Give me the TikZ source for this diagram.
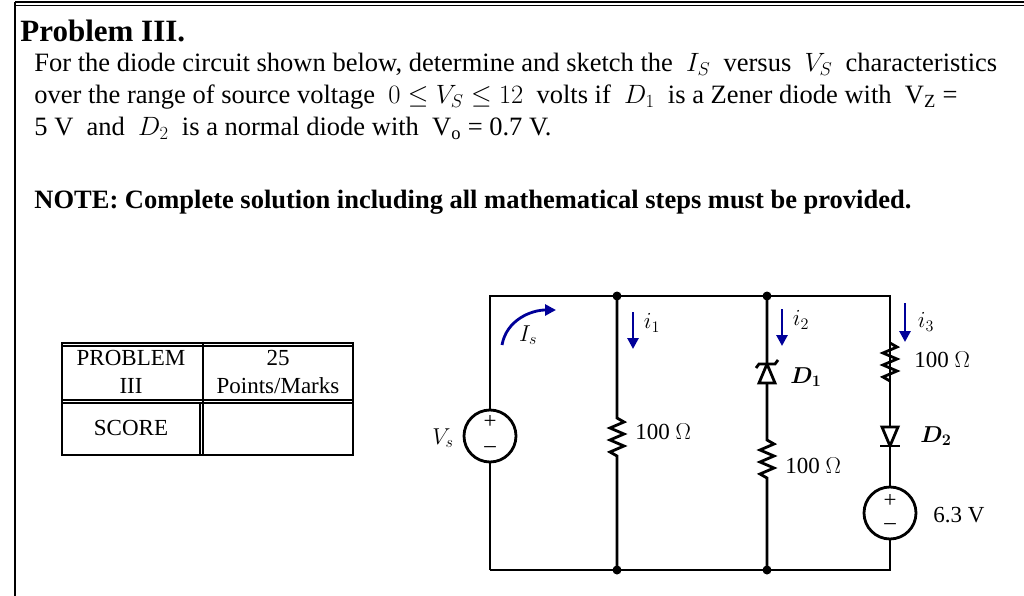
\documentclass[tikz,border=0pt]{standalone}
\usepackage{fix-cm}
\usepackage{amsmath,bm}
\usepackage{fontspec}
\setmainfont{Liberation Serif}
\usetikzlibrary{arrows.meta}
\begin{document}
\begin{tikzpicture}[x=1pt,y=-1pt,line width=2.8pt,
  txt/.style={anchor=west,inner sep=0pt,font=\fontsize{26.5}{30}\selectfont},
  lab/.style={inner sep=0pt,font=\fontsize{23}{26}\selectfont},
  cur/.style={draw=blue!60!black,line width=2.8pt,-{Triangle[length=11pt,width=11pt]}},
  dot/.style={circle,fill,inner sep=0pt,minimum size=9pt}]
\useasboundingbox (0,0) rectangle (1024,596);
% frame
\draw[line width=1.4pt] (15,2) -- (1024,2);
\draw[line width=1.4pt] (15,5.5) -- (1024,5.5);
\draw[line width=1.4pt] (15,2) -- (15,596);
\node[txt,font=\bfseries\fontsize{31}{34}\selectfont] (title) at (19,31) {Problem III.};
\node[txt] (l1) at (33,64) {For the diode circuit shown below, determine and sketch the \ $I_S$ \ versus \ $V_S$ \ characteristics};
\node[txt] (l2) at (33,97) {over the range of source voltage \ $0 \le V_S \le 12$ \ volts if \ $D_1$ \ is a Zener diode with \ V$_\mathrm{Z}$ =};
\node[txt] (l3) at (33,128) {5 V \ and \ $D_2$ \ is a normal diode with \ V$_\mathrm{o}$ = 0.7 V.};
\node[txt,font=\bfseries\fontsize{26.5}{30}\selectfont] (note) at (33,202) {NOTE: Complete solution including all mathematical steps must be provided.};
% table
\draw[line width=1.4pt] (62,343) rectangle (353,455);
\draw[line width=1.4pt] (62,346) -- (353,346);
\draw[line width=1.4pt] (62,400) -- (353,400) (62,403) -- (353,403);
\draw[line width=1.4pt] (203,343) -- (203,455) (200,403)--(200,455);
\node[lab] (p1) at (131,358) {PROBLEM};
\node[lab] (p2) at (131,386) {III};
\node[lab] (p3) at (278,358) {25};
\node[lab] (p4) at (278,386) {Points/Marks};
\node[lab] (p5) at (131,428) {SCORE};
% circuit wires
\coordinate (tl) at (490,296); \coordinate (t1) at (617,296); \coordinate (t2) at (767,296); \coordinate (tr) at (890,296);
\coordinate (bl) at (490,570); \coordinate (b1) at (617,570); \coordinate (b2) at (767,570); \coordinate (br) at (890,570);
\draw (bl) -- (tl) -- (tr) -- (br) -- (bl);
\node[dot] (d1) at (t1) {}; \node[dot] (d2) at (t2) {}; \node[dot] (d3) at (b1) {}; \node[dot] (d4) at (b2) {};
% Vs source
\node[circle,draw,fill=white,minimum size=52pt,inner sep=0pt] (vs) at (490,436) {};
\node[lab] at (490,422) {+}; \node[lab] at (490,450) {--};
\node[lab] (vsl) at (443,438) {$V_s$};
% R1
\draw (t1) -- (617,418) -- (624,422) -- (610,428) -- (624,434) -- (610,440) -- (624,446) -- (610,452) -- (617,456) -- (b1);
\node[lab,anchor=west] (r1l) at (634,432) {100 $\Omega$};
% branch 2
\draw (t2) -- (767,440) -- (774,444) -- (760,450) -- (774,456) -- (760,462) -- (774,468) -- (760,474) -- (767,478) -- (b2);
\draw[fill=white] (767,364) -- (759,383) -- (775,383) -- cycle;
\draw (756,368) -- (759,364) -- (775,364) -- (778,360);
\node[lab,anchor=west] (r2l) at (784,466) {100 $\Omega$};
\node[lab,anchor=west] (d1l) at (789,377) {$\bm{D_1}$};
% branch 3
\draw (890,343) -- (897,347) -- (883,353) -- (897,359) -- (883,365) -- (897,371) -- (883,377) -- (890,381);
\draw[fill=white] (882,427) -- (898,427) -- (890,446) -- cycle;
\draw (880,446) -- (900,446);
\node[lab,anchor=west] (r3l) at (913,360) {100 $\Omega$};
\node[lab,anchor=west] (d2l) at (919,436) {$\bm{D_2}$};
\node[circle,draw,fill=white,minimum size=52pt,inner sep=0pt] (v6) at (890,513) {};
\node[lab] at (890,501) {+}; \node[lab] at (890,527) {--};
\node[lab,anchor=west] (v6l) at (932,515) {6.3 V};
% currents
\draw[cur] (633,312) -- (633,349);
\node[lab] (i1) at (652,323) {$i_1$};
\draw[cur] (782,309) -- (782,346);
\node[lab] (i2) at (801,320) {$i_2$};
\draw[cur] (905,303) -- (905,342);
\node[lab] (i3) at (926,322) {$i_3$};
\draw[cur] (502,345) to[out=80,in=180] (556,310);
\node[lab] (is) at (528,335) {$I_s$};
\end{tikzpicture}
\end{document}
